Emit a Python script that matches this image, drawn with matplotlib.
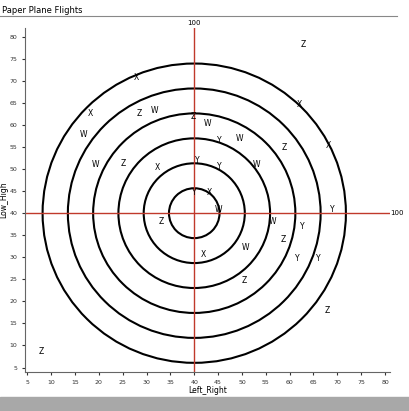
import matplotlib
matplotlib.use("Agg")
import matplotlib.pyplot as plt
from matplotlib.patches import Ellipse, Rectangle

letters = ["Z","X","X","X","Z","W","Z","W","W","Y","W","Z","X","W","Z","X","Y","Y","W","Y","X",
           "W","Y","Z","W","Y","W","X","Z","Y","Y","Z","Z","Z"]
xs = [62.9,27.8,62.0,18.2,28.5,31.6,39.8,42.7,16.7,45.2,49.4,58.9,68.1,19.3,25.1,32.3,40.6,45.2,53.0,40.0,43.2,
      45.0,68.9,33.1,56.4,62.6,50.7,41.9,58.7,61.6,66.0,50.5,67.9,7.9]
ys = [78.2,70.8,64.7,62.5,62.7,63.2,62.0,60.3,57.8,56.4,56.9,54.9,55.3,51.1,51.3,50.4,52.0,50.6,51.1,44.6,44.8,
      40.8,40.8,38.1,38.1,37.0,32.3,30.7,34.1,29.8,29.8,24.7,18.0,8.6]
ring_rx = [5.3,10.6,15.9,21.2,26.5,31.8]
ticks = list(range(5,85,5))

fig = plt.figure(figsize=(4.09,4.11), dpi=100)
fig.text(0.005,0.985,"Paper Plane Flights",fontsize=6,va="top",ha="left")
fig.add_artist(plt.Line2D([0,0.97],[0.962,0.962],color="#888888",lw=0.8))
fig.add_artist(Rectangle((0,0),1,0.035,color="#a8a8a8",transform=fig.transFigure))
ax = fig.add_axes([0.061,0.095,0.892,0.837])
ax.set_xlim(4.5,81); ax.set_ylim(4,82)
for s in ["top","right"]: ax.spines[s].set_visible(False)
for s in ["left","bottom"]: ax.spines[s].set_color("#666666")
ax.set_xticks(ticks); ax.set_yticks(ticks)
ax.tick_params(labelsize=4.5,length=2,colors="#333333")
for r in ring_rx:
    ax.add_patch(Ellipse((40,40),2*r,2*r*1.067,fill=False,color="black",lw=1.5))
ax.axvline(40,color="#c0392b",lw=1)
ax.axhline(40,color="#c0392b",lw=1)
ax.text(40,82.5,"100",fontsize=5,ha="center",va="bottom")
ax.text(81,40,"100",fontsize=5,ha="left",va="center")
for l,x,y in zip(letters,xs,ys):
    ax.text(x,y,l,fontsize=5.5,ha="center",va="center")
ax.set_xlabel("Left_Right",fontsize=5.5,labelpad=1)
ax.set_ylabel("Low_High",fontsize=5.5,labelpad=1)
fig.savefig("out.png",dpi=100)
